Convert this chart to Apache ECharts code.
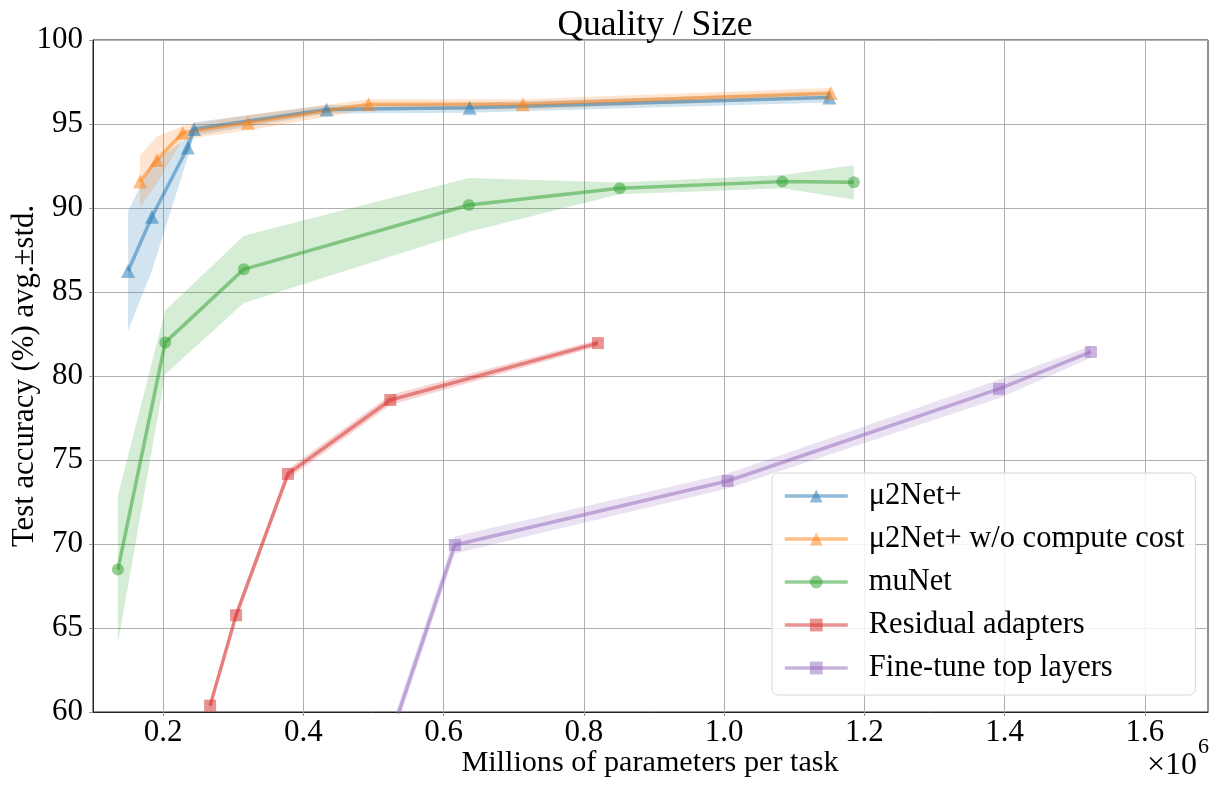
<!DOCTYPE html>
<html>
<head>
<meta charset="utf-8">
<script src="https://cdn.jsdelivr.net/npm/echarts@6/dist/echarts.min.js"></script>
<style>html,body{margin:0;padding:0;background:#fff;}#c{width:1215px;height:788px;}</style>
</head>
<body>
<div id="c"></div>
<script>
// ---- data (x in millions of parameters per task) ----
const seriesNames = ['μ2Net+', 'μ2Net+ w/o compute cost', 'muNet', 'Residual adapters', 'Fine-tune top layers'];
const colors = ['#1f77b4', '#ff7f0e', '#2ca02c', '#d62728', '#9467bd'];
const symbols = ['triangle', 'triangle', 'circle', 'rect', 'rect'];

const mu2X   = [0.150, 0.184, 0.235, 0.244, 0.433, 0.637, 1.150];
const mu2Y   = [86.25, 89.48, 93.60, 94.70, 95.87, 95.97, 96.58];
const mu2Std = [3.55, 3.2, 0.6, 0.4, 0.25, 0.3, 0.3];

const mu2ncX   = [0.167, 0.191, 0.228, 0.321, 0.493, 0.713, 1.152];
const mu2ncY   = [91.57, 92.86, 94.48, 95.08, 96.17, 96.17, 96.85];
const mu2ncStd = [1.55, 1.4, 0.4, 0.45, 0.3, 0.3, 0.3];

const munetX   = [0.1355, 0.203, 0.315, 0.636, 0.851, 1.083, 1.185];
const munetY   = [68.48, 82.0, 86.35, 90.18, 91.17, 91.57, 91.53];
const munetStd = [4.4, 1.9, 2.0, 1.6, 0.35, 0.4, 1.02];

const resX   = [0.267, 0.304, 0.378, 0.524, 0.820];
const resY   = [60.38, 65.76, 74.17, 78.57, 81.96];
const resStd = [0.3, 0.3, 0.3, 0.3, 0.2];

const ftX   = [0.500, 0.616, 1.005, 1.392, 1.523];
const ftY   = [55.5, 69.94, 73.75, 79.23, 81.43];
const ftStd = [0.5, 0.5, 0.45, 0.55, 0.35];

const xTickValues = [0.2, 0.4, 0.6, 0.8, 1.0, 1.2, 1.4, 1.6];
const xMin = 0.1, xMax = 1.69;
const yMin = 60, yMax = 100, yStep = 5;

const allX = [mu2X, mu2ncX, munetX, resX, ftX];
const allY = [mu2Y, mu2ncY, munetY, resY, ftY];
const allS = [mu2Std, mu2ncStd, munetStd, resStd, ftStd];

const FONT = "'Liberation Serif', 'DejaVu Serif', serif";

function bandSeries(k) {
  const xs = allX[k], ys = allY[k], ss = allS[k];
  const data = xs.map((x, i) => [x, ys[i] - ss[i], ys[i] + ss[i]]);
  return {
    type: 'custom',
    name: seriesNames[k] + ' band',
    silent: true,
    clip: true,
    z: 1,
    data: data,
    encode: { x: 0, y: [1, 2] },
    renderItem: function (params, api) {
      if (params.dataIndex !== 0) return null;
      const pts = [];
      for (let i = 0; i < data.length; i++) pts.push(api.coord([data[i][0], data[i][2]]));
      for (let i = data.length - 1; i >= 0; i--) pts.push(api.coord([data[i][0], data[i][1]]));
      return {
        type: 'polygon',
        shape: { points: pts },
        style: { fill: colors[k], opacity: 0.2 }
      };
    }
  };
}

function lineSeries(k) {
  return {
    type: 'line',
    name: seriesNames[k],
    data: allX[k].map((x, i) => [x, allY[k][i]]),
    symbol: symbols[k],
    symbolSize: symbols[k] === 'triangle' ? 14 : 12,
    clip: true,
    z: 3,
    lineStyle: { color: colors[k], width: 3.5, opacity: 0.5 },
    itemStyle: { color: colors[k], opacity: 0.5 },
    emphasis: { disabled: true },
    animation: false
  };
}

const series = [];
for (let k = 0; k < 5; k++) { series.push(bandSeries(k)); series.push(lineSeries(k)); }

const chart = echarts.init(document.getElementById('c'), null, { renderer: 'canvas' });
chart.setOption({
  animation: false,
  backgroundColor: '#fff',
  title: {
    text: 'Quality / Size',
    left: 650, top: 3, textAlign: 'center',
    textStyle: { fontFamily: FONT, fontSize: 35.5, fontWeight: 'normal', color: '#000' }
  },
  grid: { left: 93, right: 7, top: 40, bottom: 76, show: true, borderColor: '#222', borderWidth: 1, containLabel: false },
  xAxis: {
    type: 'value', min: xMin, max: xMax, splitNumber: 8,
    axisLine: { show: true, lineStyle: { color: '#222' } },
    axisTick: { show: true, length: 4, lineStyle: { color: '#999' }, customValues: xTickValues },
    axisLabel: {
      customValues: xTickValues,
      fontFamily: FONT, fontSize: 31, color: '#000', margin: 5,
      formatter: v => v.toFixed(1)
    },
    splitLine: { show: true, lineStyle: { color: '#b0b0b0', width: 1 } }
  },
  yAxis: {
    type: 'value', min: yMin, max: yMax, interval: yStep,
    axisLine: { show: true, lineStyle: { color: '#222' } },
    axisTick: { show: true, length: 4, lineStyle: { color: '#999' } },
    axisLabel: { fontFamily: FONT, fontSize: 31, color: '#000', margin: 10 },
    splitLine: { show: true, lineStyle: { color: '#b0b0b0', width: 1 } }
  },
  legend: {
    data: seriesNames,
    orient: 'vertical',
    left: 772, top: 473,
    padding: [6, 11, 10, 11],
    itemWidth: 63, itemHeight: 16, itemGap: 9,
    backgroundColor: 'rgba(255,255,255,0.85)',
    borderColor: '#d6d6d6', borderWidth: 1, borderRadius: 6,
    selectedMode: false,
    lineStyle: { width: 3.5 },
    textStyle: { fontFamily: FONT, fontSize: 30.5, color: '#000', lineHeight: 34, padding: [0, 0, 0, 16] }
  },
  graphic: [
    { type: 'text', x: 25, y: 376, rotation: Math.PI / 2,
      style: { text: 'Test accuracy (%) avg.±std.', font: "30.8px 'Liberation Serif'", fill: '#000', textAlign: 'center', textVerticalAlign: 'middle' } },
    { type: 'text', x: 650, y: 763,
      style: { text: 'Millions of parameters per task', font: "30.2px 'Liberation Serif'", fill: '#000', textAlign: 'center', textVerticalAlign: 'middle' } },
    { type: 'text', x: 1197, y: 766,
      style: { text: '×10', font: "32px 'Liberation Serif'", fill: '#000', textAlign: 'right', textVerticalAlign: 'middle' } },
    { type: 'text', x: 1198, y: 747,
      style: { text: '6', font: "22px 'Liberation Serif'", fill: '#000', textAlign: 'left', textVerticalAlign: 'middle' } }
  ],
  series: series
});
</script>
</body>
</html>
